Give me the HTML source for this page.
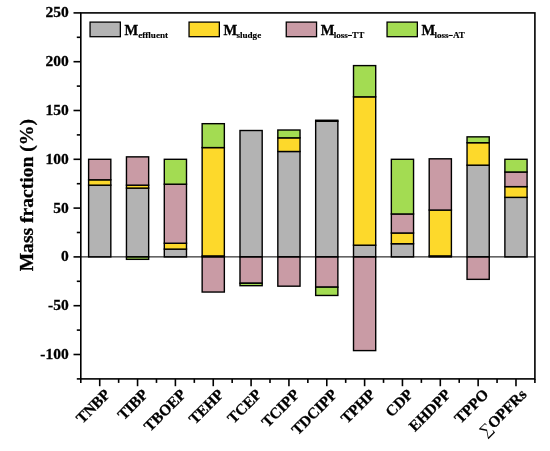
<!DOCTYPE html>
<html><head><meta charset="utf-8"><title>Mass fraction</title>
<style>html,body{margin:0;padding:0;background:#fff}svg{display:block}text{font-family:"Liberation Serif","Times New Roman",serif;font-weight:bold;fill:#000;stroke:#000;stroke-width:0.3px}</style>
</head><body>
<svg width="550" height="451" viewBox="0 0 550 451">
<rect x="0" y="0" width="550" height="451" fill="#fff"/>
<rect x="88.62" y="185.16" width="22.20" height="71.74" fill="#b3b3b3" stroke="#000" stroke-width="1.4"/>
<rect x="88.62" y="179.80" width="22.20" height="5.37" fill="#fdd92b" stroke="#000" stroke-width="1.4"/>
<rect x="88.62" y="159.30" width="22.20" height="20.50" fill="#c99ba5" stroke="#000" stroke-width="1.4"/>
<rect x="126.46" y="188.09" width="22.20" height="68.81" fill="#b3b3b3" stroke="#000" stroke-width="1.4"/>
<rect x="126.46" y="185.16" width="22.20" height="2.93" fill="#fdd92b" stroke="#000" stroke-width="1.4"/>
<rect x="126.46" y="156.86" width="22.20" height="28.30" fill="#c99ba5" stroke="#000" stroke-width="1.4"/>
<rect x="126.46" y="256.90" width="22.20" height="2.44" fill="#a3dc52" stroke="#000" stroke-width="1.4"/>
<rect x="164.30" y="249.09" width="22.20" height="7.81" fill="#b3b3b3" stroke="#000" stroke-width="1.4"/>
<rect x="164.30" y="243.24" width="22.20" height="5.86" fill="#fdd92b" stroke="#000" stroke-width="1.4"/>
<rect x="164.30" y="184.19" width="22.20" height="59.05" fill="#c99ba5" stroke="#000" stroke-width="1.4"/>
<rect x="164.30" y="159.30" width="22.20" height="24.89" fill="#a3dc52" stroke="#000" stroke-width="1.4"/>
<rect x="202.15" y="255.92" width="22.20" height="0.98" fill="#b3b3b3" stroke="#000" stroke-width="1.4"/>
<rect x="202.15" y="147.59" width="22.20" height="108.34" fill="#fdd92b" stroke="#000" stroke-width="1.4"/>
<rect x="202.15" y="123.68" width="22.20" height="23.91" fill="#a3dc52" stroke="#000" stroke-width="1.4"/>
<rect x="202.15" y="256.90" width="22.20" height="35.14" fill="#c99ba5" stroke="#000" stroke-width="1.4"/>
<rect x="239.99" y="130.51" width="22.20" height="126.39" fill="#b3b3b3" stroke="#000" stroke-width="1.4"/>
<rect x="239.99" y="256.90" width="22.20" height="26.35" fill="#c99ba5" stroke="#000" stroke-width="1.4"/>
<rect x="239.99" y="283.25" width="22.20" height="2.44" fill="#a3dc52" stroke="#000" stroke-width="1.4"/>
<rect x="277.83" y="151.49" width="22.20" height="105.41" fill="#b3b3b3" stroke="#000" stroke-width="1.4"/>
<rect x="277.83" y="137.83" width="22.20" height="13.66" fill="#fdd92b" stroke="#000" stroke-width="1.4"/>
<rect x="277.83" y="130.02" width="22.20" height="7.81" fill="#a3dc52" stroke="#000" stroke-width="1.4"/>
<rect x="277.83" y="256.90" width="22.20" height="29.28" fill="#c99ba5" stroke="#000" stroke-width="1.4"/>
<rect x="315.67" y="121.24" width="22.20" height="135.66" fill="#b3b3b3" stroke="#000" stroke-width="1.4"/>
<rect x="315.67" y="120.26" width="22.20" height="0.98" fill="#fdd92b" stroke="#000" stroke-width="1.4"/>
<rect x="315.67" y="256.90" width="22.20" height="30.26" fill="#c99ba5" stroke="#000" stroke-width="1.4"/>
<rect x="315.67" y="287.16" width="22.20" height="8.30" fill="#a3dc52" stroke="#000" stroke-width="1.4"/>
<rect x="353.51" y="245.19" width="22.20" height="11.71" fill="#b3b3b3" stroke="#000" stroke-width="1.4"/>
<rect x="353.51" y="96.84" width="22.20" height="148.35" fill="#fdd92b" stroke="#000" stroke-width="1.4"/>
<rect x="353.51" y="65.60" width="22.20" height="31.23" fill="#a3dc52" stroke="#000" stroke-width="1.4"/>
<rect x="353.51" y="256.90" width="22.20" height="93.70" fill="#c99ba5" stroke="#000" stroke-width="1.4"/>
<rect x="391.35" y="243.72" width="22.20" height="13.18" fill="#b3b3b3" stroke="#000" stroke-width="1.4"/>
<rect x="391.35" y="232.99" width="22.20" height="10.74" fill="#fdd92b" stroke="#000" stroke-width="1.4"/>
<rect x="391.35" y="213.96" width="22.20" height="19.03" fill="#c99ba5" stroke="#000" stroke-width="1.4"/>
<rect x="391.35" y="159.30" width="22.20" height="54.66" fill="#a3dc52" stroke="#000" stroke-width="1.4"/>
<rect x="429.20" y="255.92" width="22.20" height="0.98" fill="#b3b3b3" stroke="#000" stroke-width="1.4"/>
<rect x="429.20" y="210.05" width="22.20" height="45.87" fill="#fdd92b" stroke="#000" stroke-width="1.4"/>
<rect x="429.20" y="158.81" width="22.20" height="51.24" fill="#c99ba5" stroke="#000" stroke-width="1.4"/>
<rect x="467.04" y="165.16" width="22.20" height="91.74" fill="#b3b3b3" stroke="#000" stroke-width="1.4"/>
<rect x="467.04" y="142.71" width="22.20" height="22.45" fill="#fdd92b" stroke="#000" stroke-width="1.4"/>
<rect x="467.04" y="136.85" width="22.20" height="5.86" fill="#a3dc52" stroke="#000" stroke-width="1.4"/>
<rect x="467.04" y="256.90" width="22.20" height="22.45" fill="#c99ba5" stroke="#000" stroke-width="1.4"/>
<rect x="504.88" y="197.36" width="22.20" height="59.54" fill="#b3b3b3" stroke="#000" stroke-width="1.4"/>
<rect x="504.88" y="186.63" width="22.20" height="10.74" fill="#fdd92b" stroke="#000" stroke-width="1.4"/>
<rect x="504.88" y="171.99" width="22.20" height="14.64" fill="#c99ba5" stroke="#000" stroke-width="1.4"/>
<rect x="504.88" y="159.30" width="22.20" height="12.69" fill="#a3dc52" stroke="#000" stroke-width="1.4"/>
<line x1="80.8" y1="256.90" x2="534.9" y2="256.90" stroke="#000" stroke-width="1"/>
<rect x="80.8" y="12.9" width="454.09999999999997" height="366.0" fill="none" stroke="#000" stroke-width="1.6"/>
<line x1="76.8" y1="378.90" x2="80.8" y2="378.90" stroke="#000" stroke-width="1.6"/>
<line x1="73.5" y1="354.50" x2="80.8" y2="354.50" stroke="#000" stroke-width="1.6"/>
<text x="68.70" y="358.90" font-size="15.5" text-anchor="end">-100</text>
<line x1="76.8" y1="330.10" x2="80.8" y2="330.10" stroke="#000" stroke-width="1.6"/>
<line x1="73.5" y1="305.70" x2="80.8" y2="305.70" stroke="#000" stroke-width="1.6"/>
<text x="68.70" y="310.10" font-size="15.5" text-anchor="end">-50</text>
<line x1="76.8" y1="281.30" x2="80.8" y2="281.30" stroke="#000" stroke-width="1.6"/>
<line x1="73.5" y1="256.90" x2="80.8" y2="256.90" stroke="#000" stroke-width="1.6"/>
<text x="68.70" y="261.30" font-size="15.5" text-anchor="end">0</text>
<line x1="76.8" y1="232.50" x2="80.8" y2="232.50" stroke="#000" stroke-width="1.6"/>
<line x1="73.5" y1="208.10" x2="80.8" y2="208.10" stroke="#000" stroke-width="1.6"/>
<text x="68.70" y="212.50" font-size="15.5" text-anchor="end">50</text>
<line x1="76.8" y1="183.70" x2="80.8" y2="183.70" stroke="#000" stroke-width="1.6"/>
<line x1="73.5" y1="159.30" x2="80.8" y2="159.30" stroke="#000" stroke-width="1.6"/>
<text x="68.70" y="163.70" font-size="15.5" text-anchor="end">100</text>
<line x1="76.8" y1="134.90" x2="80.8" y2="134.90" stroke="#000" stroke-width="1.6"/>
<line x1="73.5" y1="110.50" x2="80.8" y2="110.50" stroke="#000" stroke-width="1.6"/>
<text x="68.70" y="114.90" font-size="15.5" text-anchor="end">150</text>
<line x1="76.8" y1="86.10" x2="80.8" y2="86.10" stroke="#000" stroke-width="1.6"/>
<line x1="73.5" y1="61.70" x2="80.8" y2="61.70" stroke="#000" stroke-width="1.6"/>
<text x="68.70" y="66.10" font-size="15.5" text-anchor="end">200</text>
<line x1="76.8" y1="37.30" x2="80.8" y2="37.30" stroke="#000" stroke-width="1.6"/>
<line x1="73.5" y1="12.90" x2="80.8" y2="12.90" stroke="#000" stroke-width="1.6"/>
<text x="68.70" y="17.30" font-size="15.5" text-anchor="end">250</text>
<line x1="99.72" y1="378.9" x2="99.72" y2="386.2" stroke="#000" stroke-width="1.6"/>
<line x1="137.56" y1="378.9" x2="137.56" y2="386.2" stroke="#000" stroke-width="1.6"/>
<line x1="175.40" y1="378.9" x2="175.40" y2="386.2" stroke="#000" stroke-width="1.6"/>
<line x1="213.25" y1="378.9" x2="213.25" y2="386.2" stroke="#000" stroke-width="1.6"/>
<line x1="251.09" y1="378.9" x2="251.09" y2="386.2" stroke="#000" stroke-width="1.6"/>
<line x1="288.93" y1="378.9" x2="288.93" y2="386.2" stroke="#000" stroke-width="1.6"/>
<line x1="326.77" y1="378.9" x2="326.77" y2="386.2" stroke="#000" stroke-width="1.6"/>
<line x1="364.61" y1="378.9" x2="364.61" y2="386.2" stroke="#000" stroke-width="1.6"/>
<line x1="402.45" y1="378.9" x2="402.45" y2="386.2" stroke="#000" stroke-width="1.6"/>
<line x1="440.30" y1="378.9" x2="440.30" y2="386.2" stroke="#000" stroke-width="1.6"/>
<line x1="478.14" y1="378.9" x2="478.14" y2="386.2" stroke="#000" stroke-width="1.6"/>
<line x1="515.98" y1="378.9" x2="515.98" y2="386.2" stroke="#000" stroke-width="1.6"/>
<line x1="80.80" y1="378.9" x2="80.80" y2="382.9" stroke="#000" stroke-width="1.6"/>
<line x1="118.64" y1="378.9" x2="118.64" y2="382.9" stroke="#000" stroke-width="1.6"/>
<line x1="156.48" y1="378.9" x2="156.48" y2="382.9" stroke="#000" stroke-width="1.6"/>
<line x1="194.32" y1="378.9" x2="194.32" y2="382.9" stroke="#000" stroke-width="1.6"/>
<line x1="232.17" y1="378.9" x2="232.17" y2="382.9" stroke="#000" stroke-width="1.6"/>
<line x1="270.01" y1="378.9" x2="270.01" y2="382.9" stroke="#000" stroke-width="1.6"/>
<line x1="307.85" y1="378.9" x2="307.85" y2="382.9" stroke="#000" stroke-width="1.6"/>
<line x1="345.69" y1="378.9" x2="345.69" y2="382.9" stroke="#000" stroke-width="1.6"/>
<line x1="383.53" y1="378.9" x2="383.53" y2="382.9" stroke="#000" stroke-width="1.6"/>
<line x1="421.37" y1="378.9" x2="421.37" y2="382.9" stroke="#000" stroke-width="1.6"/>
<line x1="459.22" y1="378.9" x2="459.22" y2="382.9" stroke="#000" stroke-width="1.6"/>
<line x1="497.06" y1="378.9" x2="497.06" y2="382.9" stroke="#000" stroke-width="1.6"/>
<line x1="534.90" y1="378.9" x2="534.90" y2="382.9" stroke="#000" stroke-width="1.6"/>
<text transform="translate(111.12,395.40) rotate(-45)" font-size="15.35" text-anchor="end">TNBP</text>
<text transform="translate(148.96,395.40) rotate(-45)" font-size="15.35" text-anchor="end">TIBP</text>
<text transform="translate(186.80,395.40) rotate(-45)" font-size="15.35" text-anchor="end">TBOEP</text>
<text transform="translate(224.65,395.40) rotate(-45)" font-size="15.35" text-anchor="end">TEHP</text>
<text transform="translate(262.49,395.40) rotate(-45)" font-size="15.35" text-anchor="end">TCEP</text>
<text transform="translate(300.33,395.40) rotate(-45)" font-size="15.35" text-anchor="end">TCIPP</text>
<text transform="translate(338.17,395.40) rotate(-45)" font-size="15.35" text-anchor="end">TDCIPP</text>
<text transform="translate(376.01,395.40) rotate(-45)" font-size="15.35" text-anchor="end">TPHP</text>
<text transform="translate(413.85,395.40) rotate(-45)" font-size="15.35" text-anchor="end">CDP</text>
<text transform="translate(451.70,395.40) rotate(-45)" font-size="15.35" text-anchor="end">EHDPP</text>
<text transform="translate(489.54,395.40) rotate(-45)" font-size="15.35" text-anchor="end">TPPO</text>
<text transform="translate(527.38,395.40) rotate(-45)" font-size="15.35" text-anchor="end"><tspan font-weight="normal" font-size="16" style="stroke:none">∑</tspan>OPFRs</text>
<text transform="translate(32.5,195.2) rotate(-90)" font-size="19.6" text-anchor="middle">Mass fraction (%)</text>
<rect x="90.05" y="22.1" width="30.3" height="14.6" fill="#b3b3b3" stroke="#000" stroke-width="1.3"/>
<text x="124.55" y="34.7" font-size="14.5">M<tspan font-size="9.1" dy="2.9" dx="0" style="stroke-width:0.15px">effluent</tspan></text>
<rect x="189.05" y="22.1" width="30.3" height="14.6" fill="#fdd92b" stroke="#000" stroke-width="1.3"/>
<text x="223.55" y="34.7" font-size="14.5">M<tspan font-size="9.1" dy="2.9" dx="-0.8" style="stroke-width:0.15px">sludge</tspan></text>
<rect x="286.25" y="22.1" width="30.3" height="14.6" fill="#c99ba5" stroke="#000" stroke-width="1.3"/>
<text x="320.75" y="34.7" font-size="14.5">M<tspan font-size="9.1" dy="2.9" dx="-0.8" style="stroke-width:0.15px">loss<tspan font-size="7.6" style="stroke-width:0.55px">−</tspan>TT</tspan></text>
<rect x="387.05" y="22.1" width="30.3" height="14.6" fill="#a3dc52" stroke="#000" stroke-width="1.3"/>
<text x="421.55" y="34.7" font-size="14.5">M<tspan font-size="9.1" dy="2.9" dx="-0.8" style="stroke-width:0.15px">loss<tspan font-size="7.6" style="stroke-width:0.55px">−</tspan>AT</tspan></text>
</svg></body></html>
